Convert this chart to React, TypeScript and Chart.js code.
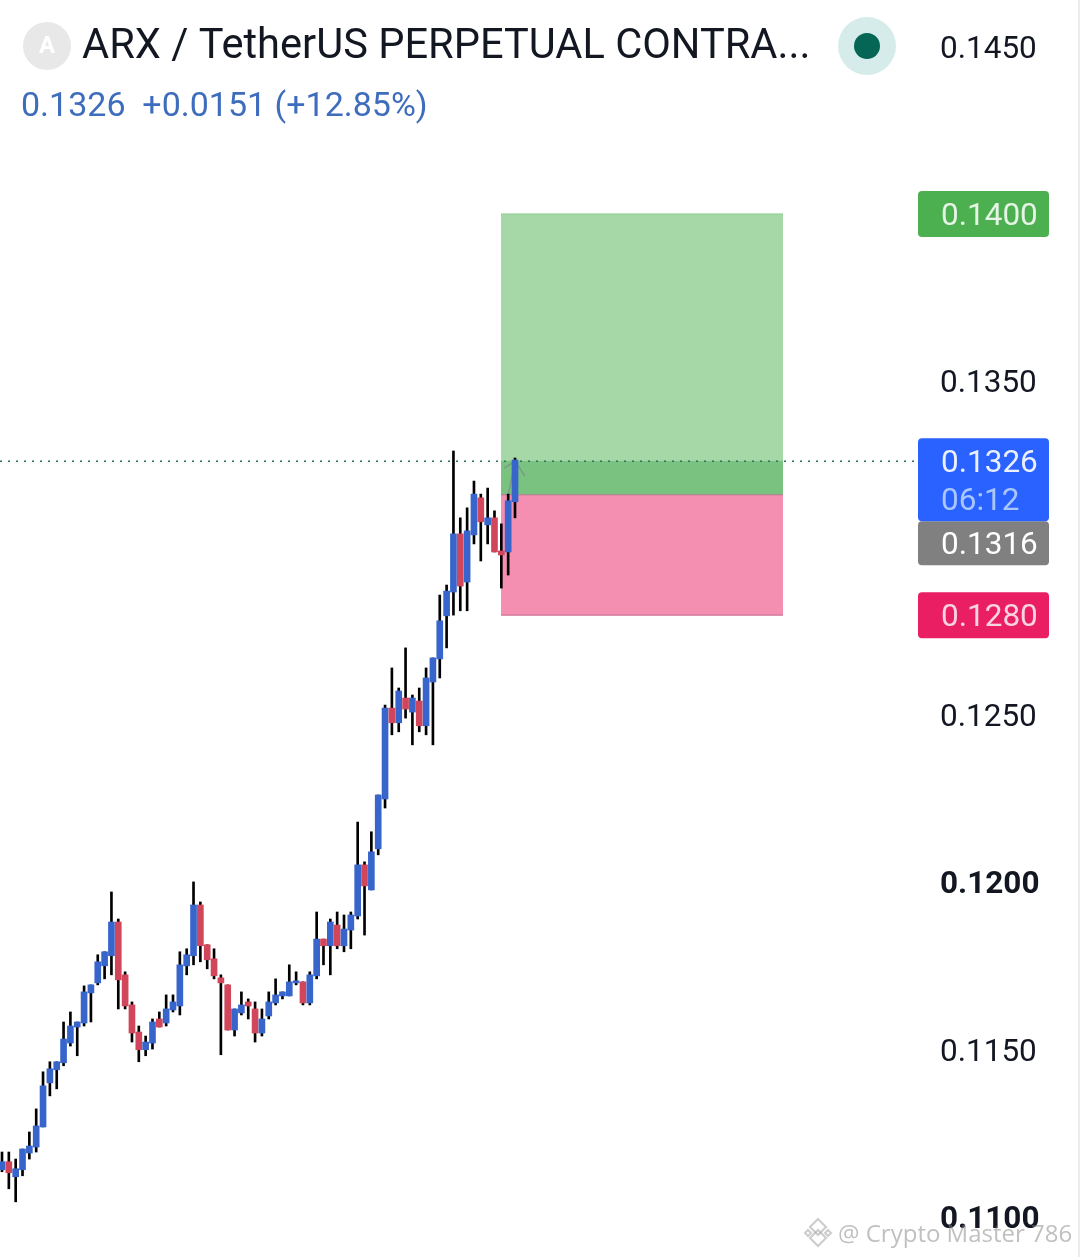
import React, { useEffect, useRef } from "react";
import { Chart, registerables } from "chart.js";

Chart.register(...registerables);

const opens = [0.11141,0.11165,0.1112,0.11141,0.11191,0.11209,0.11269,0.11401,0.1144,0.11461,0.1152,0.11568,0.1158,0.1167,0.117,0.11751,0.11781,0.11882,0.11724,0.11634,0.11553,0.115,0.1152,0.11592,0.1158,0.11619,0.11631,0.11751,0.11781,0.11933,0.11814,0.11772,0.11715,0.11694,0.11559,0.1161,0.11643,0.11622,0.1155,0.11601,0.1164,0.11661,0.11661,0.117,0.11703,0.1164,0.11721,0.11831,0.11811,0.11873,0.11811,0.11858,0.119,0.12053,0.11978,0.12101,0.1225,0.12522,0.12478,0.12552,0.1251,0.12543,0.12469,0.126,0.12669,0.12798,0.12869,0.13043,0.12899,0.1304,0.13151,0.1307,0.13091,0.12992,0.12989,0.13139];
const closes = [0.11165,0.11132,0.11144,0.11203,0.11212,0.11272,0.11392,0.11443,0.11464,0.11532,0.11571,0.11583,0.11673,0.11694,0.11763,0.11793,0.11882,0.11709,0.11631,0.1155,0.115,0.11523,0.11583,0.11568,0.11622,0.11643,0.11754,0.11784,0.11933,0.11811,0.11769,0.11721,0.117,0.11559,0.11622,0.11634,0.11631,0.1155,0.11592,0.11643,0.11664,0.11673,0.11703,0.11706,0.1164,0.11724,0.11831,0.11811,0.11882,0.11811,0.11861,0.11903,0.12053,0.1199,0.12092,0.12262,0.12522,0.12478,0.12573,0.12519,0.12552,0.12469,0.12612,0.12672,0.12783,0.12872,0.13043,0.12887,0.13052,0.13162,0.13079,0.13091,0.12989,0.1298,0.13142,0.13264];
const highs = [0.11194,0.11194,0.11173,0.11203,0.11254,0.11323,0.11434,0.11464,0.11464,0.11583,0.11613,0.11583,0.11691,0.11694,0.11784,0.11793,0.11972,0.11891,0.11733,0.11643,0.11571,0.11541,0.11592,0.11613,0.11664,0.11664,0.11793,0.11802,0.12002,0.11942,0.11814,0.11802,0.11724,0.11694,0.11622,0.11673,0.11652,0.11643,0.11622,0.11673,0.11712,0.11673,0.11754,0.11733,0.11703,0.11733,0.11912,0.11831,0.11891,0.11912,0.11903,0.11912,0.12181,0.12062,0.12152,0.12262,0.12531,0.12642,0.12582,0.12702,0.12561,0.12582,0.12642,0.12672,0.1286,0.1289,0.13291,0.13091,0.13121,0.13201,0.13162,0.1318,0.13112,0.13073,0.13162,0.1327];
const lows = [0.11135,0.11084,0.11045,0.11123,0.11173,0.11194,0.11269,0.11362,0.11383,0.11452,0.11511,0.11482,0.11571,0.11583,0.11694,0.11712,0.11724,0.11622,0.11622,0.11523,0.11464,0.11482,0.11502,0.11568,0.11571,0.11613,0.11604,0.11724,0.11754,0.11763,0.11742,0.11712,0.11485,0.11559,0.11541,0.11604,0.11592,0.11523,0.11541,0.11592,0.11634,0.11652,0.11661,0.11694,0.11634,0.11634,0.11712,0.11754,0.11724,0.11802,0.11793,0.11802,0.11891,0.11843,0.11978,0.12083,0.12223,0.12442,0.12451,0.12492,0.12412,0.12451,0.12442,0.12412,0.12612,0.12702,0.128,0.12813,0.12813,0.13013,0.12962,0.13013,0.12989,0.12881,0.1292,0.13091];

const lastPrice = 0.1326;
const entryPrice = 0.1316;
const targetPrice = 0.14;
const stopPrice = 0.128;
const boxStart = 72.95;
const boxEnd = 114.18;
const xMin = -0.292;
const xMax = 133.77;
const yMin = 0.10880;
const yMax = 0.14640;
const arrowHeadX = [73.4, 75, 76.46];
const arrowHeadY = [0.1324, 0.1326, 0.13216];
const arrowShaftX = [74, 75];
const arrowShaftY = [0.1316, 0.1326];
const titleText = "ARX / TetherUS PERPETUAL CONTRA...";
const changeText = "0.1326  +0.0151 (+12.85%)";
const watermarkText = "@ Crypto Master 786";
const boldTicks = ["0.1200", "0.1100"];

const BLUE = "#3765cb";
const RED = "#d1465a";

const overlay = {
  id: "overlay",
  afterDraw(chart: any) {
    const c = chart.ctx;
    const y = chart.scales.y;
    c.save();
    c.textBaseline = "middle";
    c.textAlign = "left";

    // header
    c.fillStyle = "#e8e8e8";
    c.beginPath(); c.arc(47, 46, 24, 0, Math.PI * 2); c.fill();
    c.fillStyle = "#ffffff";
    c.font = "bold 24px Roboto";
    c.textAlign = "center";
    c.fillText("A", 47, 47);
    c.textAlign = "left";
    c.fillStyle = "#131722";
    c.font = "41.6px Roboto";
    c.fillText(titleText, 82, 48);
    c.fillStyle = "#3f6dbd";
    c.font = "34px Roboto";
    c.fillText(changeText, 21, 107);
    c.fillStyle = "#d6ecea";
    c.beginPath(); c.arc(867, 46, 29, 0, Math.PI * 2); c.fill();
    c.fillStyle = "#056656";
    c.beginPath(); c.arc(867, 46, 13, 0, Math.PI * 2); c.fill();

    // price badges
    const badge = (top: number, h: number, col: string) => {
      c.fillStyle = col;
      c.beginPath();
      c.roundRect(918, top, 131, h, 4);
      c.fill();
    };
    const yT = y.getPixelForValue(targetPrice);
    const yL = y.getPixelForValue(lastPrice);
    const yS = y.getPixelForValue(stopPrice);
    c.font = "31.5px Roboto";
    badge(yT - 23, 46, "#4caf50");
    c.fillStyle = "#e6f4e6";
    c.fillText("0.1400", 941, yT + 3);
    badge(yL + 60, 44, "#808080");
    c.fillStyle = "#ffffff";
    c.fillText("0.1316", 941, yL + 85);
    badge(yL - 23, 83, "#2962ff");
    c.fillStyle = "#eaf0ff";
    c.fillText("0.1326", 941, yL + 3);
    c.fillStyle = "#a9c6ff";
    c.fillText("06:12", 941, yL + 41);
    badge(yS - 23, 46, "#e91e63");
    c.fillStyle = "#fbd3e1";
    c.fillText("0.1280", 941, yS + 3);

    // watermark
    c.fillStyle = "rgba(130,130,130,0.5)";
    c.font = "24px 'Open Sans'";
    c.fillText(watermarkText, 838, 1235);
    c.strokeStyle = "rgba(170,170,170,0.6)";
    c.lineWidth = 2;
    const diamond = (x: number, yy: number, r: number) => {
      c.beginPath();
      c.moveTo(x, yy - r); c.lineTo(x + r, yy); c.lineTo(x, yy + r); c.lineTo(x - r, yy);
      c.closePath(); c.stroke();
    };
    diamond(818, 1227, 8);
    diamond(818, 1238, 8);
    diamond(808, 1233, 3);
    diamond(828, 1233, 3);

    // page edge
    c.fillStyle = "#ececec";
    c.fillRect(1078, 0, 2, 1257);
    c.restore();
  },
};

const hLine = (v: number, color: string, order: number, extra: any = {}) => ({
  type: "line",
  data: [{ x: boxStart, y: v }, { x: boxEnd, y: v }],
  borderColor: color,
  borderWidth: 1,
  pointRadius: 0,
  order,
  ...extra,
});

export default function App() {
  const ref = useRef<HTMLCanvasElement>(null);
  useEffect(() => {
    const canvas = ref.current!;
    const wickData = highs.map((h, i) => ({ x: i, y: [lows[i], h] }));
    const bodyData = opens.map((o, i) => ({ x: i, y: [o, closes[i]] }));
    const bodyColors = opens.map((o, i) => (closes[i] >= o ? BLUE : RED));
    const chart = new Chart(canvas, {
      type: "bar",
      data: {
        datasets: [
          hLine(targetPrice, "#8ccb8f", 20, { fill: { value: lastPrice }, backgroundColor: "#a5d8a6" }),
          hLine(lastPrice, "#79c27f", 19, { fill: { value: entryPrice }, backgroundColor: "#79c27f" }),
          hLine(stopPrice, "#c4688c", 18, { fill: { value: entryPrice }, backgroundColor: "#f48fb1" }),
          hLine(entryPrice, "#a87a88", 17),
          {
            type: "line",
            data: [{ x: xMin, y: lastPrice }, { x: xMax, y: lastPrice }],
            borderColor: "#2f6f62",
            borderWidth: 1.5,
            borderDash: [2, 6],
            pointRadius: 0,
            order: 16,
          },
          {
            type: "line",
            data: arrowHeadX.map((x, i) => ({ x, y: arrowHeadY[i] })),
            borderColor: "#7d9a86",
            borderWidth: 1.5,
            pointRadius: 0,
            order: 15,
          },
          {
            type: "line",
            data: arrowShaftX.map((x, i) => ({ x, y: arrowShaftY[i] })),
            borderColor: "#7d9a86",
            borderWidth: 1.5,
            pointRadius: 0,
            order: 15,
          },
          {
            type: "bar",
            data: wickData,
            backgroundColor: "#000000",
            barThickness: 2,
            grouped: false,
            order: 5,
          },
          {
            type: "bar",
            data: bodyData,
            backgroundColor: bodyColors,
            barThickness: 6,
            grouped: false,
            order: 1,
          },
        ] as any,
      },
      options: {
        responsive: false,
        animation: false,
        layout: { padding: 0 },
        plugins: { legend: { display: false }, tooltip: { enabled: false }, title: { display: false } },
        scales: {
          x: { type: "linear", display: false, min: xMin, max: xMax, offset: false },
          y: {
            type: "linear",
            position: "right",
            min: yMin,
            max: yMax,
            border: { display: false },
            grid: { display: false },
            afterFit: (s: any) => {
              s.width = 163;
              s.paddingTop = 0;
              s.paddingBottom = 0;
            },
            ticks: {
              stepSize: 0.005,
              includeBounds: false,
              padding: 15,
              labelOffset: 3,
              color: "#131722",
              callback: (v: any) => Number(v).toFixed(4),
              font: (ctx: any) => {
                const label = Number(ctx.tick?.value).toFixed(4);
                return { family: "Roboto", size: 31.5, weight: boldTicks.includes(label) ? "bold" : "normal" };
              },
            },
          },
        },
      } as any,
      plugins: [overlay],
    });
    return () => chart.destroy();
  }, []);
  return (
    <div style={{ position: "absolute", left: 0, top: 0, width: 1080, height: 1257, background: "#fff" }}>
      <canvas ref={ref} width={1080} height={1257} style={{ display: "block" }} />
    </div>
  );
}
